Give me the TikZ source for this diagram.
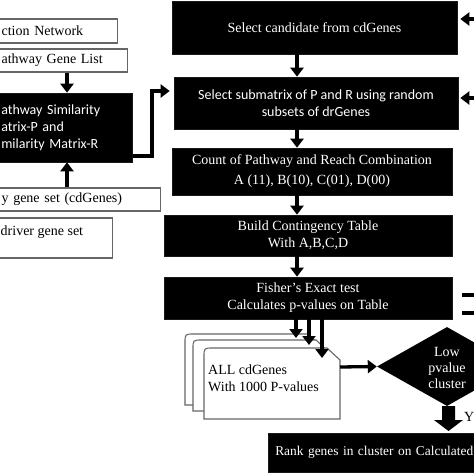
\documentclass[tikz,border=0pt]{standalone}
\usepackage{fontspec}
\setmainfont{Liberation Serif}
\newfontfamily\calfont{Carlito}
\usetikzlibrary{arrows.meta,shapes.geometric,calc}
\begin{document}
\begin{tikzpicture}[x=1pt,y=-1pt,
  blk/.style={fill=black, draw=black!80!gray, line width=0.6pt, text=white, font=\fontsize{14}{17}\selectfont, align=center, inner sep=0pt},
  wbox/.style={fill=white, draw=black!60, line width=1.2pt, font=\fontsize{14}{17}\selectfont, inner sep=0pt},
  arr/.style={line width=3.3pt, -{Triangle[width=13pt,length=9pt]}},
  thk/.style={line width=3.3pt},
  sans/.style={font=\calfont\fontsize{14}{17}\selectfont},
  page/.style={fill=white, draw=black!60, line width=1.1pt},
  txt/.style={font=\fontsize{14}{17}\selectfont, inner sep=0pt}
]
\useasboundingbox (0,0) rectangle (474,474);
\clip (0,0) rectangle (474,474);

% right column
\node[blk, minimum width=285pt, minimum height=53pt] (b1) at (314.5,27.5) {Select candidate from cdGenes};
\node[blk, sans, minimum width=284pt, minimum height=52pt] (b2) at (316,103) {Select submatrix of P and R using random\\subsets of drGenes};
\node[blk, font=\fontsize{14}{20}\selectfont, minimum width=280pt, minimum height=47pt] (b3) at (312,171.5) {Count of Pathway and Reach Combination\\A (11), B(10), C(01), D(00)};
\node[blk, minimum width=288pt, minimum height=41pt] (b4) at (308,235.5) {Build Contingency Table\\With A,B,C,D};
\node[blk, minimum width=288pt, minimum height=42pt] (b5) at (308,298) {Fisher's Exact test\\Calculates p-values on Table};

\coordinate (cx) at (297,0);
\draw[arr] (b1.south -| cx) -- (b2.north -| cx);
\draw[arr] (b2.south -| cx) -- (b3.north -| cx);
\draw[arr] (b3.south -| cx) -- (b4.north -| cx);
\draw[arr] (b4.south -| cx) -- (b5.north -| cx);

% left column
\node[wbox, anchor=west, minimum height=24pt, text width=105pt, inner xsep=11pt, align=left] (w1) at (-10,31) {ction Network};
\node[wbox, anchor=west, minimum height=23pt, text width=115pt, inner xsep=11pt, align=left] (w2) at (-10,60.5) {athway Gene List};
\node[blk, sans, anchor=west, minimum height=69pt, text width=120pt, inner xsep=11pt, align=left] (lb) at (-10,127.5) {athway Similarity\\atrix-P and\\milarity Matrix-R};
\node[wbox, anchor=west, minimum height=23pt, text width=148pt, inner xsep=11pt, align=left] (w3) at (-10,199.5) {y gene set (cdGenes)};
\node[wbox, anchor=west, minimum width=122pt, minimum height=40pt] (w4) at (-10,238) {};
\node[txt, anchor=base west] (w4t) at (0.5,235) {driver gene set};

\coordinate (c1) at (67,0);
\draw[arr] (w2.south -| c1) -- (lb.north -| c1);
\draw[arr] (w3.north -| c1) -- (lb.south -| c1);

\coordinate (e1) at (0,156);
\coordinate (e2) at (152,91);
\draw[arr, shorten >=4pt] (lb.east |- e1) -| (e2) -- (b2.west |- e2);

% incoming arrows from the right
\coordinate (r1) at (485,19);
\coordinate (r2) at (485,98);
\draw[arr, shorten >=3pt] (r1) -- (b1.east |- r1);
\draw[arr, shorten >=2pt] (r2) -- (b2.east |- r2);
\coordinate (l1) at (462,295);
\coordinate (l2) at (462,313);
\coordinate (l1e) at (485,295);
\coordinate (l2e) at (485,313);
\draw[thk] (l1) -- (l1e);
\draw[thk] (l2) -- (l2e);

% stacked pages
\newcommand{\pagesh}[2]{%
  \draw[page] (#1,#2+71) -- (#1,#2+9) .. controls (#1,#2) .. (#1+9,#2) -- (#1+123,#2) -- (#1+136,#2+12) -- (#1+136,#2+71) -- cycle;}
\pagesh{185}{334}
\pagesh{193}{340}
\pagesh{204}{348}
\node[txt, anchor=west, align=left] (pg) at (208,378.5) {ALL cdGenes\\With 1000 P-values};

\coordinate (p1) at (296,338);
\coordinate (p2) at (309,345);
\coordinate (p3) at (322,358);
\draw[arr] (b5.south -| p1) -- (p1);
\draw[arr] (b5.south -| p2) -- (p2);
\draw[arr] (b5.south -| p3) -- (p3);

% diamond
\node[diamond, fill=black, inner sep=0pt, minimum width=140pt, minimum height=79pt] (dia) at (447,366.5) {};
\node[txt, text=white, align=center, font=\fontsize{14}{16}\selectfont] (dt) at (447,368) {Low\\pvalue\\cluster};
\coordinate (pgr) at (340,367);
\draw[arr] (pgr) -- (dia.west);

% block arrow
\fill (442,406) -- (455,406) -- (455,420) -- (463,420) -- (448.5,431) -- (434,420) -- (442,420) -- cycle;
\node[txt, anchor=west] (yes) at (464,417) {Y};

% rank box
\node[blk, anchor=west, minimum height=39pt, text width=226pt, align=left, inner xsep=7pt, font=\fontsize{13.4}{16}\selectfont] (rk) at (268,452.5) {Rank genes in cluster on Calculated};
\end{tikzpicture}
\end{document}
